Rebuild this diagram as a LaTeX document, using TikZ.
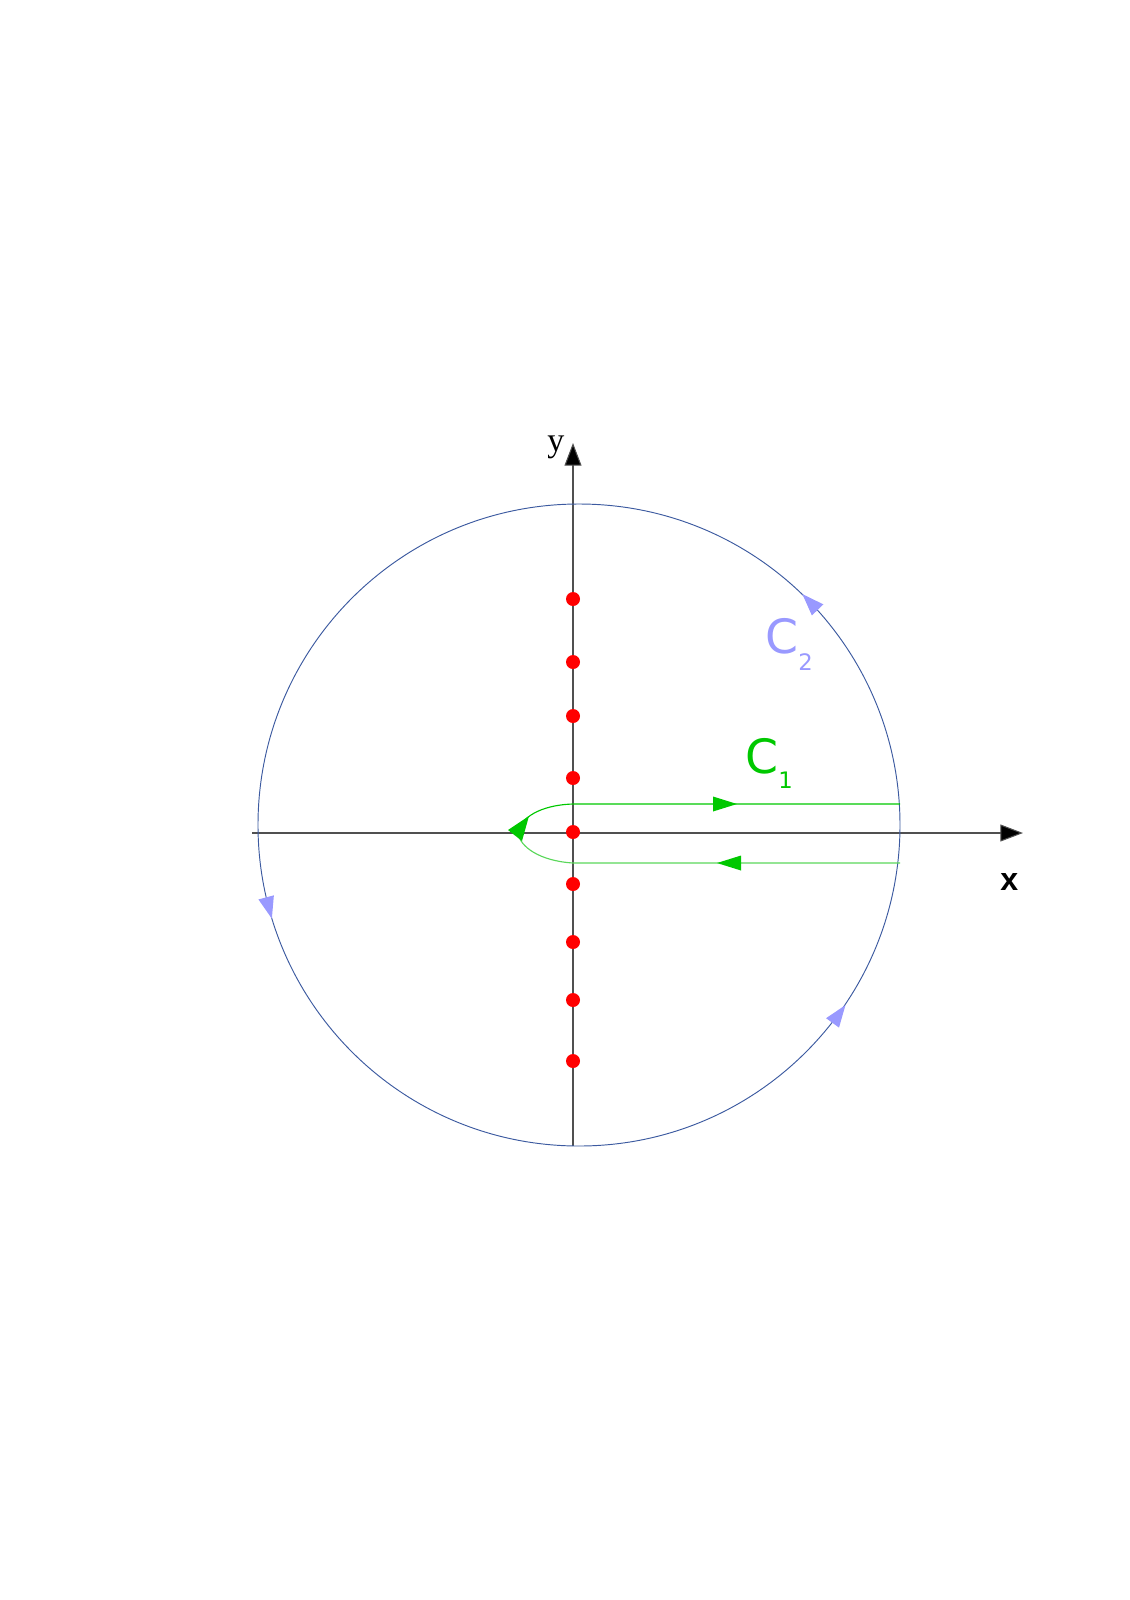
\documentclass[tikz,border=0pt]{standalone}
\usepackage{fontspec}
\usepackage{tikz}
\usetikzlibrary{arrows.meta}
\usepackage{xcolor}
\newfontfamily\labsans{DejaVu Sans}
\newfontfamily\axserif{Liberation Serif}
\newfontfamily\axsans{Liberation Sans}
\definecolor{circblue}{RGB}{60,90,160}
\definecolor{lavend}{RGB}{153,153,255}
\definecolor{cgreen}{RGB}{0,200,0}
\definecolor{lgreen}{RGB}{90,215,90}
\definecolor{axgray}{RGB}{80,80,80}

\begin{document}
\begin{tikzpicture}[x=0.018584cm,y=-0.018584cm,
  axis/.style={axgray,line width=0.55pt,-{Triangle[length=12pt,width=9pt,fill=black]}},
  lab/.style={inner sep=0pt,anchor=base west}]
\useasboundingbox (0,0) rectangle (1130,1600);

% axes
\coordinate (xl) at (252,833);
\coordinate (xr) at (1023,833);
\coordinate (yb) at (573,1146);
\coordinate (yt) at (573,443);
\draw [axis] (xl) -- (xr);
\draw [axis] (yb) -- (yt);
\node [lab] (ylab) at (547,451) {\axserif\fontsize{18}{18}\selectfont y};
\node [lab] (xlab) at (1000,890) {\axsans\bfseries\fontsize{17}{17}\selectfont x};

% contour C2
\coordinate (o) at (579,825);
\draw [circblue,line width=0.5pt] (o) circle (321);
 \fill [lavend,shift={(810,602)},rotate=134] (11,0) -- (-11,8) -- (-11,-8) -- cycle;
 \fill [lavend,shift={(269,908)},rotate=285] (11,0) -- (-11,8) -- (-11,-8) -- cycle;
 \fill [lavend,shift={(839,1014)},rotate=54] (11,0) -- (-11,8) -- (-11,-8) -- cycle;
\node [lab,text=lavend] (ctwo) at (765,653) {\labsans\fontsize{25}{25}\selectfont C\raisebox{-9pt}{\fontsize{12}{12}\selectfont 2}};

% contour C1
\coordinate (ur) at (900,804);
\coordinate (ul) at (573,804);
\coordinate (lt) at (518,833);
\coordinate (ll) at (573,863);
\coordinate (lr) at (900,863);
\draw [cgreen,line width=0.6pt] (ur) -- (ul) .. controls (540,805) and (520,818) .. (lt);
\draw [lgreen,line width=0.6pt] (lt) .. controls (520,847) and (540,861) .. (ll) -- (lr);
 \fill [cgreen] (713,796.5) -- (737,804) -- (713,811.5) -- cycle;
 \fill [cgreen] (741,855.5) -- (717,863) -- (741,870.5) -- cycle;
 \fill [cgreen] (508,830) -- (529,816) -- (522,841) -- cycle;
\node [lab,text=cgreen] (cone) at (745,773) {\labsans\fontsize{25}{25}\selectfont C\raisebox{-8pt}{\fontsize{12}{12}\selectfont 1}};

% poles
 \path[fill=red] (573,599) circle (7);
 \path[fill=red] (573,662) circle (7);
 \path[fill=red] (573,716) circle (7);
 \path[fill=red] (573,778) circle (7);
 \path[fill=red] (573,832) circle (7);
 \path[fill=red] (573,884) circle (7);
 \path[fill=red] (573,942) circle (7);
 \path[fill=red] (573,1000) circle (7);
 \path[fill=red] (573,1061) circle (7);

\end{tikzpicture}
\end{document}
